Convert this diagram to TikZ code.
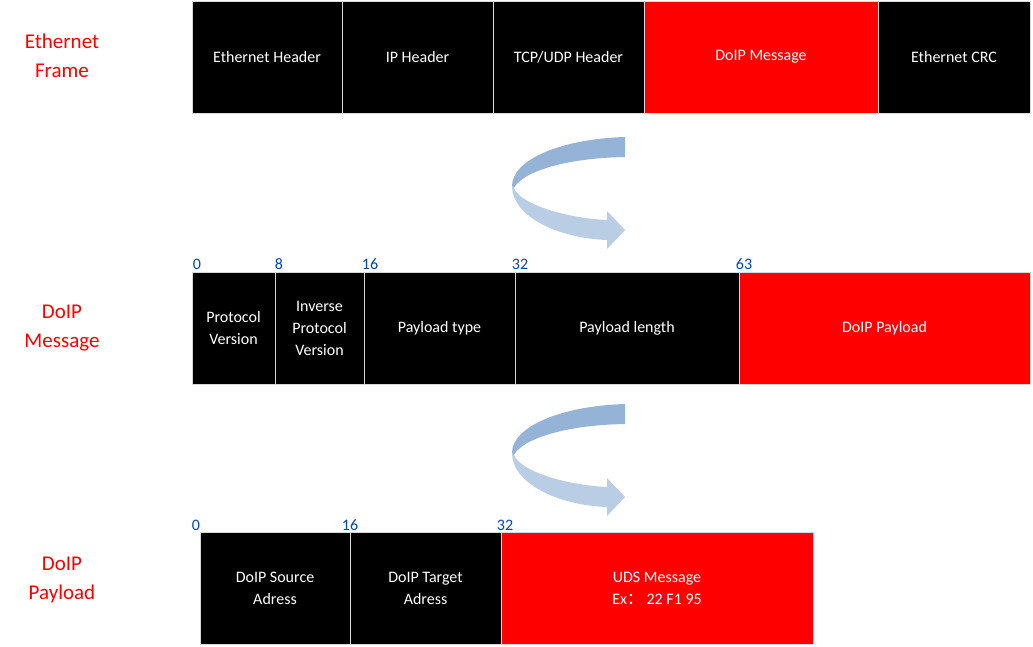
\documentclass[tikz,border=0pt]{standalone}
\usepackage{fontspec}
\setmainfont{Carlito}
\newfontfamily\cjk{Noto Sans CJK SC}
\begin{document}
\begin{tikzpicture}[x=1pt,y=-1pt,
 blk/.style={draw=white!70!gray,line width=0.6pt,fill=black,text=white,align=center,font=\fontsize{16}{22}\selectfont},
 red/.style={blk,fill=red},
 num/.style={text=blue!60!cyan!70!black,font=\fontsize{16}{18}\selectfont,anchor=center},
 lab/.style={text=red,align=center,font=\fontsize{21}{29}\selectfont}]
\useasboundingbox (0,0) rectangle (1033,646);
\def\bx#1#2#3#4#5#6{\node[#1,minimum width=#4-#3,minimum height=112,inner sep=0] (#2) at ({(#3+#4)/2},#5) {#6};}
% row 1
\bx{blk}{eh}{192}{342}{57}{Ethernet Header}
\bx{blk}{ip}{342}{493}{57}{IP Header}
\bx{blk}{tcp}{493}{644}{57}{TCP/UDP Header}
\bx{red}{dm}{644}{878}{57}{DoIP Message}
\bx{blk}{crc}{878}{1030}{57}{Ethernet CRC}
% row 2
\bx{blk}{pv}{192}{275}{328}{Protocol\\Version}
\bx{blk}{ipv}{275}{364}{328}{Inverse\\Protocol\\Version}
\bx{blk}{pt}{364}{515}{328}{Payload type}
\bx{blk}{pl}{515}{739}{328}{Payload length}
\bx{red}{dp}{739}{1030}{328}{DoIP Payload}
% row 3
\bx{blk}{sa}{200}{350}{588}{DoIP Source\\Adress}
\bx{blk}{ta}{350}{501}{588}{DoIP Target\\Adress}
\bx{red}{uds}{501}{813}{588}{UDS Message\\Ex{\cjk ：}\ 22 F1 95}
% numbers
\node[num] (n0) at (197,264) {0};
\node[num] (n8) at (279,264) {8};
\node[num] (n16) at (370,264) {16};
\node[num] (n32) at (520,264) {32};
\node[num] (n63) at (744,264) {63};
\node[num] (m0) at (196,525) {0};
\node[num] (m16) at (350,525) {16};
\node[num] (m32) at (505,525) {32};
% labels
\node[lab] (l1) at (62,56) {Ethernet\\Frame};
\node[lab] (l2) at (62,328) {DoIP\\Message};
\node[lab] (l3) at (62,580) {DoIP\\Payload};
% curved arrows
\foreach \dy in {0,267}{
\begin{scope}[yshift=-\dy]
\fill[fill={rgb,255:red,149;green,179;blue,215}] (625,137) .. controls (560,139) and (512,160) .. (512,186)
  -- (514,188) .. controls (522,172) and (565,158) .. (625,157) -- cycle;
\fill[fill={rgb,255:red,185;green,205;blue,229}] (512,186) .. controls (512,215) and (555,238) .. (607,240)
  -- (607,249) -- (625,230) -- (607,211) -- (607,220) .. controls (565,218) and (520,204) .. (514,188) -- cycle;
\end{scope}}
\end{tikzpicture}
\end{document}
